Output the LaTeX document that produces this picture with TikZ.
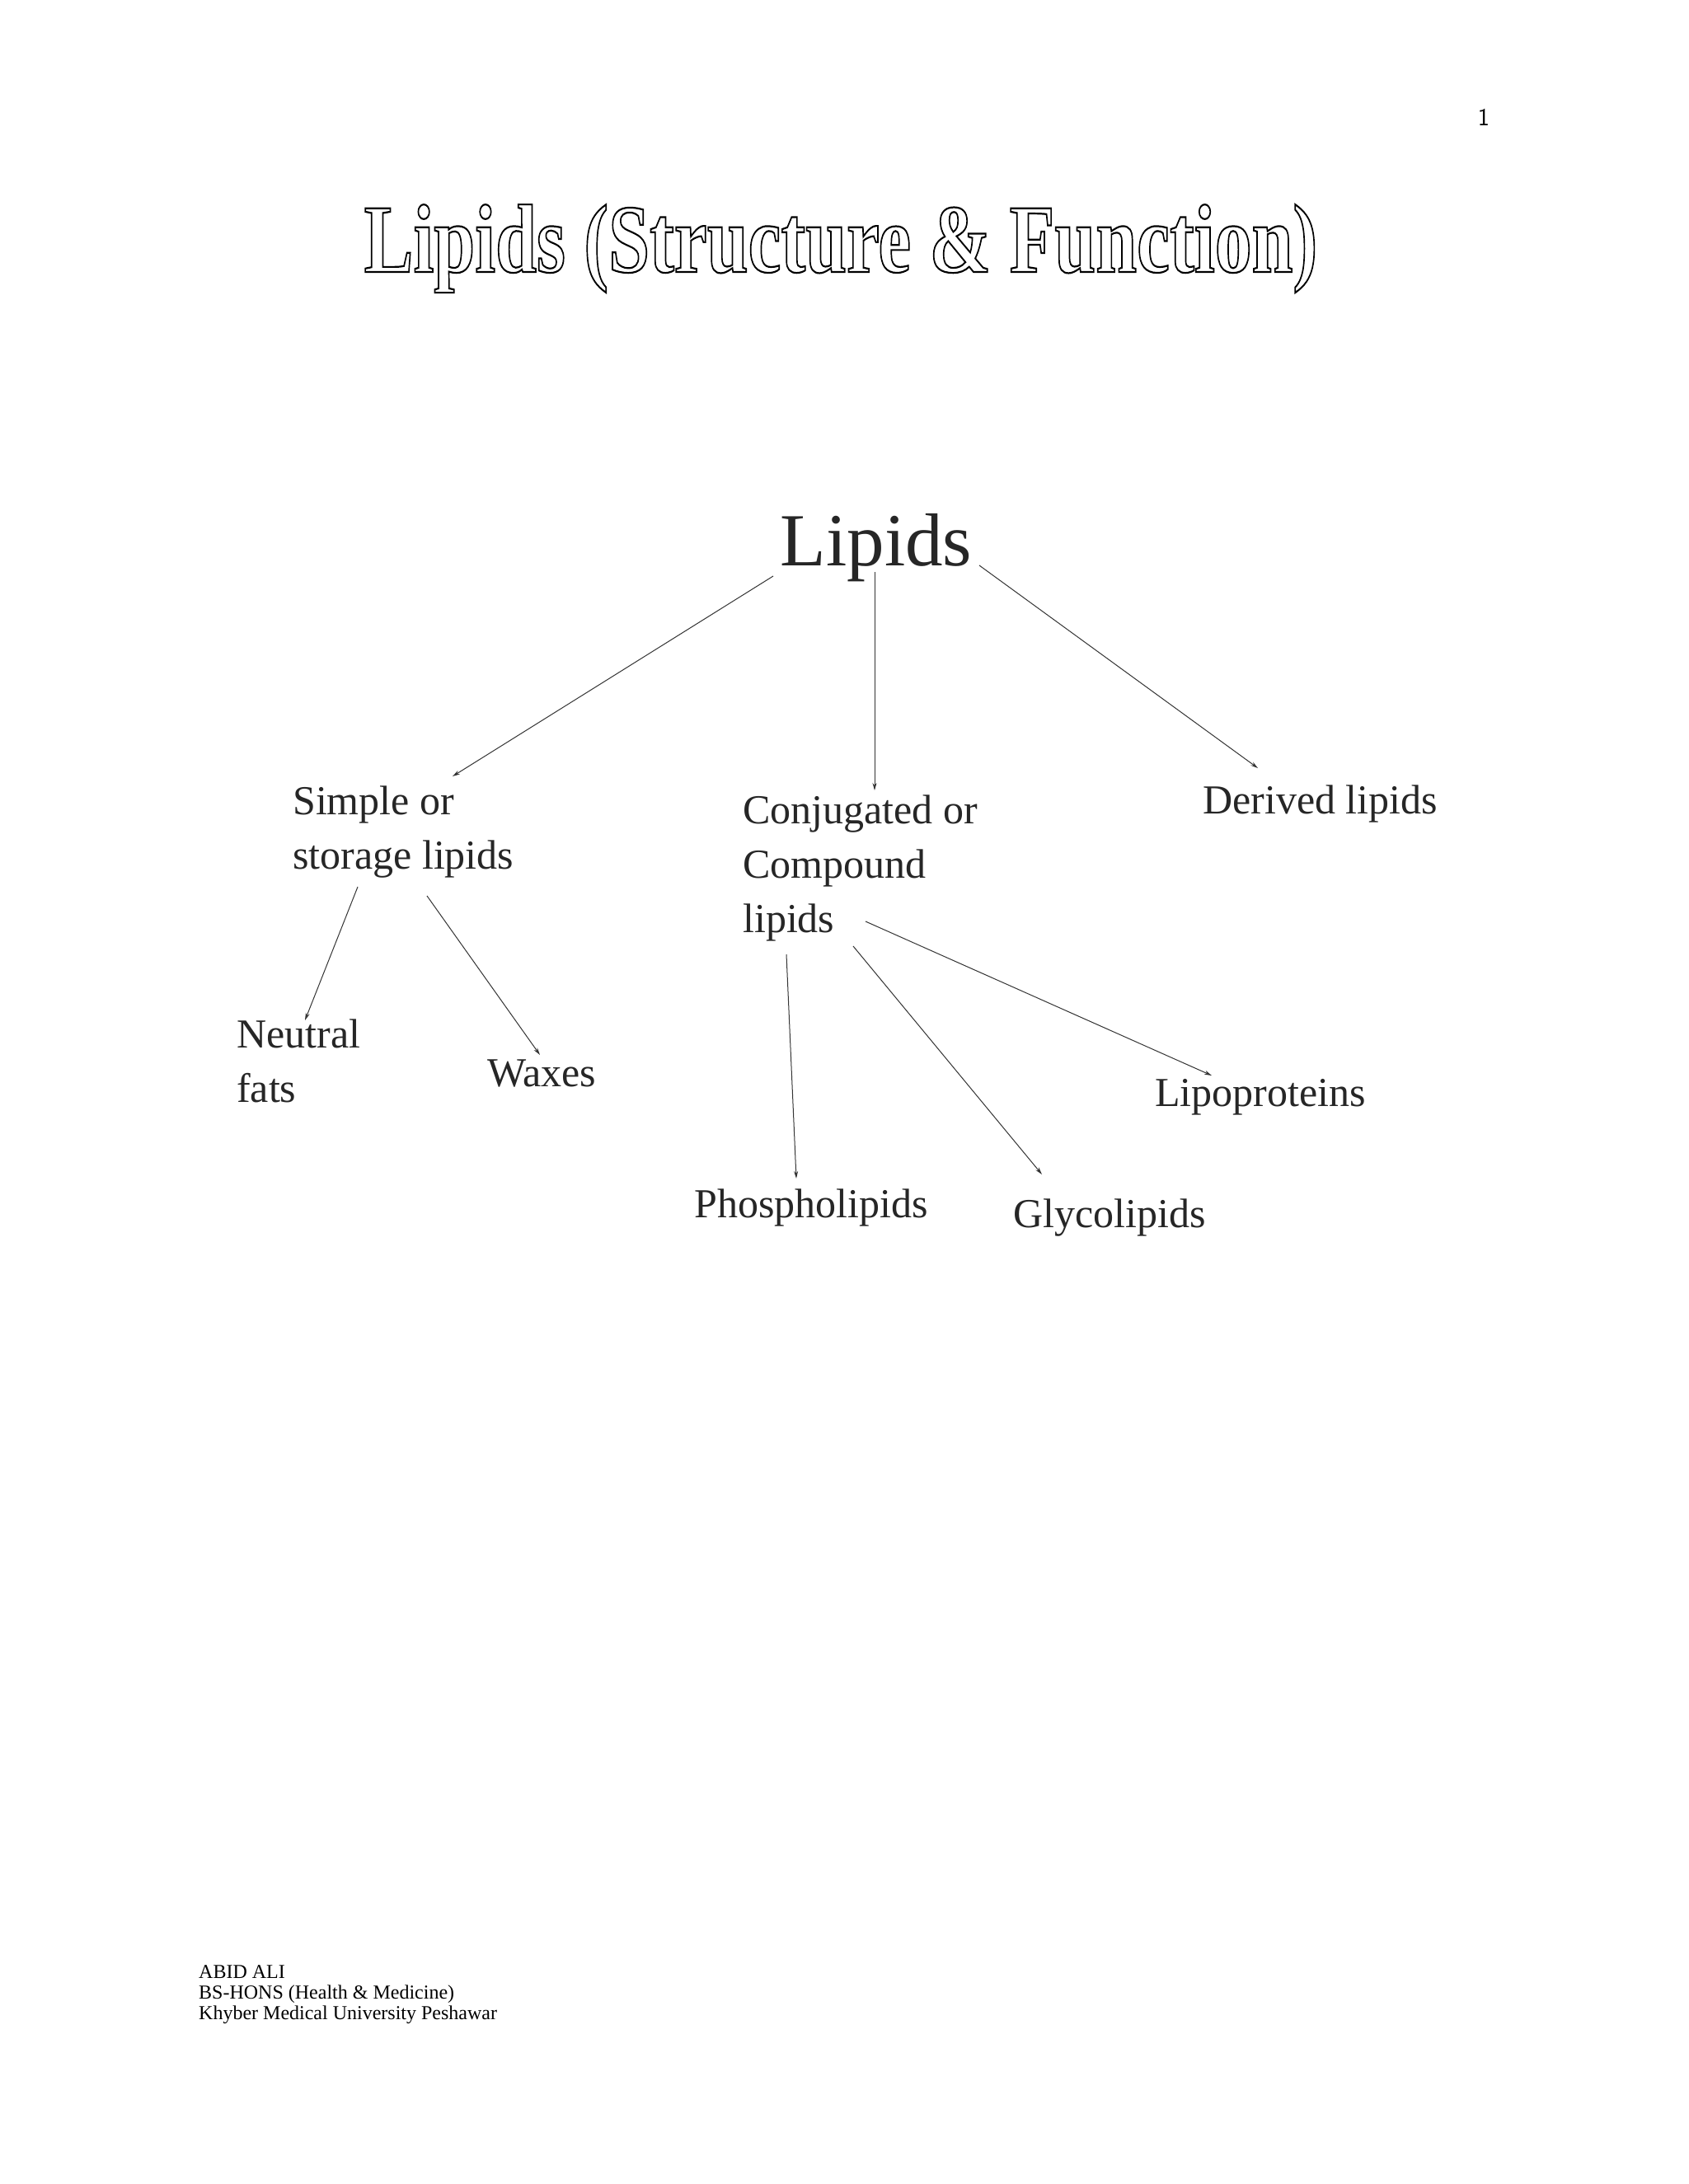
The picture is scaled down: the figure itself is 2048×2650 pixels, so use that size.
\documentclass[tikz,border=0pt]{standalone}
\usepackage{fontspec}
\usepackage{graphicx}
\usetikzlibrary{arrows.meta}
\setmainfont{Liberation Serif}
\begin{document}
\begin{tikzpicture}[x=1pt,y=-1pt,
  lbl/.style={anchor=base west,inner sep=0pt,font=\fontsize{50}{66}\selectfont,align=left,text=black!85},
  arr/.style={-{Stealth[length=9pt,width=5pt]},line width=1pt,black!80},
  foot/.style={anchor=base west,inner sep=0pt,font=\fontsize{24}{25}\selectfont}]
\useasboundingbox (0,0) rectangle (2048,2650);
\node[anchor=base,inner sep=0pt,font=\fontsize{30}{30}\selectfont\sffamily] (pg) at (1800,152) {1};
\node[anchor=base,inner sep=0pt,font=\fontsize{118}{118}\selectfont\bfseries] (title) at (1020,330)
  {\scalebox{0.76}[1]{\special{pdf:code 1 Tr 2.2 w}Lipids (Structure \& Function)\special{pdf:code 0 Tr}}};
\begin{scope}[xshift=9pt]
\node[anchor=base,inner sep=0pt,font=\fontsize{91}{91}\selectfont,text=black!85] (lip) at (1054,686) {Lipids};
\node[lbl] (sim) at (346,1054) {Simple or\\storage lipids};
\node[lbl] (con) at (892,1131) {Conjugated or\\Compound\\lipids};
\node[lbl] (der) at (1450,987) {Derived lipids};
\node[lbl] (neu) at (278,1337) {Neutral\\fats};
\node[lbl] (wax) at (582,1318) {Waxes};
\node[lbl] (lpp) at (1392,1342) {Lipoproteins};
\node[lbl] (pho) at (833,1477) {Phospholipids};
\node[lbl] (gly) at (1220,1489) {Glycolipids};
\coordinate (a1) at (929,699); \coordinate (b1) at (540,942);
\coordinate (a2) at (1052,694); \coordinate (b2) at (1052,959);
\coordinate (a3) at (1179,686); \coordinate (b3) at (1517,932);
\coordinate (a4) at (425,1076); \coordinate (b4) at (361,1238);
\coordinate (a5) at (509,1087); \coordinate (b5) at (646,1280);
\coordinate (a6) at (945,1158); \coordinate (b6) at (957,1430);
\coordinate (a7) at (1026,1148); \coordinate (b7) at (1255,1425);
\coordinate (a8) at (1041,1118); \coordinate (b8) at (1461,1305);
\end{scope}
\foreach \i in {1,...,8} \draw[arr] (a\i) -- (b\i);
\node[foot] (f1) at (241,2400) {ABID ALI};
\node[foot] (f2) at (241,2425) {BS-HONS (Health \& Medicine)};
\node[foot] (f3) at (241,2450) {Khyber Medical University Peshawar};
\end{tikzpicture}
\end{document}
